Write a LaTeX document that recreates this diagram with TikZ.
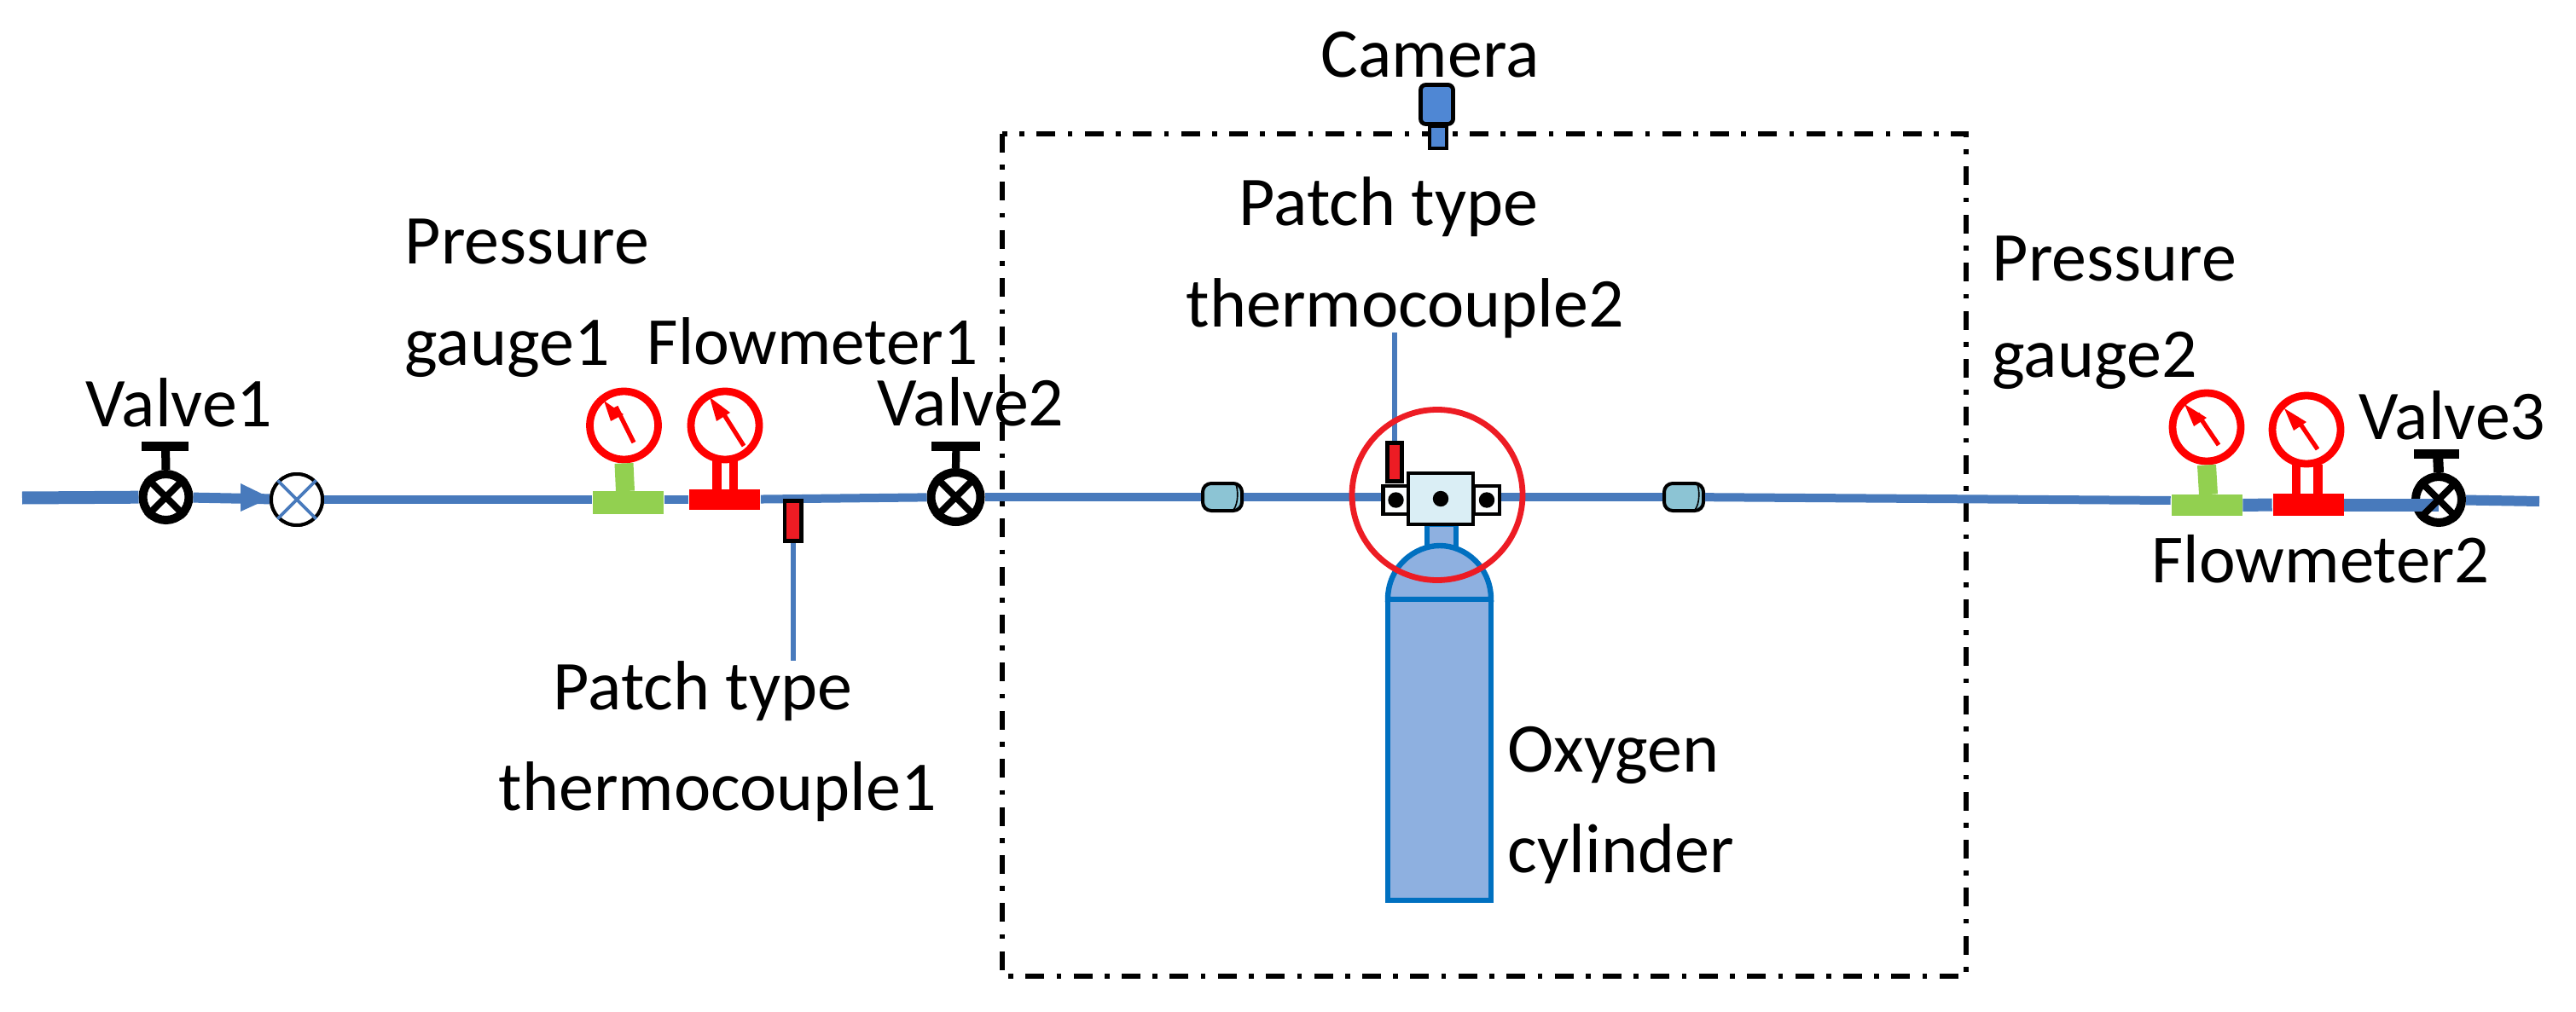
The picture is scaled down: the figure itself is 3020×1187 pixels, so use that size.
\documentclass[tikz,border=0pt]{standalone}
\usepackage{fontspec}
\setmainfont{Carlito}
\definecolor{pipeblue}{RGB}{72,122,188}
\definecolor{cylblue}{RGB}{142,176,224}
\definecolor{cyledge}{RGB}{0,112,192}
\definecolor{tgreen}{RGB}{146,208,80}
\definecolor{capblue}{RGB}{79,135,212}
\definecolor{headblue}{RGB}{218,238,245}
\definecolor{plugblue}{RGB}{140,196,212}
\definecolor{patchred}{RGB}{237,28,36}
\tikzset{
  lbl/.style={font=\fontsize{20.5pt}{24pt}\selectfont,inner sep=0pt,anchor=base west},
  pipe/.style={draw=pipeblue,line width=2.5pt},
  pipethick/.style={draw=pipeblue,line width=3.75pt},
  lead/.style={draw=pipeblue,line width=1.5pt},
  valvebody/.style={circle,draw=black,line width=2.5pt,fill=white,minimum size=13.5pt,inner sep=0pt},
  cross/.style={line width=2pt},
  dial/.style={circle,draw=red,line width=2.2pt,fill=white,minimum size=20pt,inner sep=0pt},
  needle/.style={line width=1.3pt,red},
  tbase/.style={rectangle,inner sep=0pt,minimum width=20.75pt},
  patch/.style={rectangle,draw=black,line width=1.2pt,fill=patchred,inner sep=0pt},
  plug/.style={rectangle,rounded corners=2.5pt,draw=black,line width=1pt,fill=plugblue,minimum width=11.5pt,minimum height=8pt,inner sep=0pt},
  block/.style={rectangle,draw=black,line width=1.2pt,fill=headblue,inner sep=0pt},
  side/.style={block,minimum width=7.5pt,minimum height=8.25pt,fill=white!90!headblue},
  pin/.style={circle,fill=black,minimum size=4.6pt,inner sep=0pt},
  cyl/.style={draw=cyledge,fill=cylblue,line width=1.6pt},
}
\begin{document}
\begin{tikzpicture}[x=0.25pt,y=0.25pt,yscale=-1,xscale=1]
\useasboundingbox (0,0) rectangle (3020,1187);

% dash-dot box
\draw [line width=1.4pt,dash pattern=on 5.5pt off 3.6pt on 1.4pt off 3.6pt] (1175,157) rectangle (2305,1145);

% pipe line parts
\coordinate (pipeL) at (26,584);
\coordinate (pipeR) at (2977,588);
\node [valvebody] (valveA) at (194.5,583) {};
\node [circle,draw=black,line width=1pt,fill=white,minimum size=15pt,inner sep=0pt] (flow) at (348,586) {};
\node [tbase,fill=tgreen,minimum height=6.75pt] (baseA) at (736.5,589.5) {};
\node [tbase,fill=red,minimum height=6pt] (baseB) at (849.5,586) {};
\node [valvebody,minimum size=14.5pt] (valveB) at (1120.5,583) {};
\node [plug] (plugA) at (1433,583) {};
\node [side] (sideA) at (1636.5,586.5) {};
\node [side] (sideB) at (1743,586.5) {};
\node [plug] (plugB) at (1974,583) {};
\node [tbase,fill=tgreen,minimum height=6.25pt] (baseC) at (2587,592.5) {};
\node [tbase,fill=red,minimum height=6.5pt] (baseD) at (2706,592) {};
\node [valvebody] (valveC) at (2859,586) {};

\draw [pipethick] (pipeL) -- (valveA);
\draw [pipe,line width=3pt] (valveA) -- (flow);
\draw [pipe] (flow) -- (flow -| baseA.west);
\draw [pipe] (baseB -| baseA.east) -- (baseB);
\draw [pipe] (baseB) -- (valveB);
\draw [pipe] (valveB) -- (plugA);
\draw [pipe] (plugA) -- (plugA -| sideA.west);
\draw [pipe] (plugB -| sideB.east) -- (plugB);
\draw [pipe] (plugB) -- (baseC.west |- 0,587);
\draw [pipethick] (baseC) -- (baseD);
\draw [pipethick] (baseD) -- (baseD -| valveC);
\draw [pipe,line width=3pt] (valveC) -- (pipeR);
\fill [pipeblue] (282,567) -- (317,584) -- (282,600) -- cycle;

% redraw over the pipe
\node [circle,draw=black,line width=1pt,fill=white,minimum size=15pt,inner sep=0pt] (flowTop) at (flow) {};
\draw [pipeblue,line width=0.9pt] (flowTop.45) -- (flowTop.225) (flowTop.135) -- (flowTop.315);
\draw (plugA.north east) ++(-10,1) .. controls (1452,573) and (1452,591) .. (1446,598);
\draw (plugB.north east) ++(-10,1) .. controls (1993,573) and (1993,591) .. (1987,598);

% valve crosses and handles
\draw [cross] (valveA.45) -- (valveA.225) (valveA.135) -- (valveA.315);
\draw [line width=2.5pt] (valveA.north) -- (194,523);
\draw [line width=2.75pt] (166,523.5) -- (221,523.5);
\draw [cross] (valveB.45) -- (valveB.225) (valveB.135) -- (valveB.315);
\draw [line width=2.3pt] (valveB.north) -- (1121,523);
\draw [line width=2.75pt] (1092,523.5) -- (1149,523.5);
\draw [cross] (valveC.45) -- (valveC.225) (valveC.135) -- (valveC.315);
\draw [line width=3pt] (valveC.north) -- (2858,532);
\draw [line width=2.75pt] (2830,532) -- (2883,532);

% gauges
\node [dial] (dialA) at (731.5,499) {};
\node [dial] (dialB) at (850,499) {};
\node [dial] (dialC) at (2587,501) {};
\node [dial] (dialD) at (2704,504) {};
\draw [line width=5.5pt,draw=tgreen] (dialA.south) -- (733,576);
\draw [line width=2.6pt,draw=red] (840.5,541) -- (840.5,574) (860,541) -- (860,574);
\draw [line width=5.5pt,draw=tgreen] (dialC.south) -- (2589,580);
\draw [line width=2.6pt,draw=red] (2692,545) -- (2692,579) (2717.5,545) -- (2717.5,579);
\draw [needle] (743,519) -- (722,477);
\fill [red] (708,470) -- (731,486) -- (716,494) -- cycle;
\draw [needle] (872,523) -- (843,477);
\fill [red] (832,466) -- (856,484) -- (840,494) -- cycle;
\draw [needle] (2601,522) -- (2576,485);
\fill [red] (2561,474) -- (2587,490) -- (2572,500) -- cycle;
\draw [needle] (2717,527) -- (2692,490);
\fill [red] (2678,479) -- (2704,495) -- (2689,505) -- cycle;

% thermocouple patches
\node [patch,minimum width=4.8pt,minimum height=11.8pt] (patchA) at (929.5,611) {};
\coordinate (leadA) at (929.5,775);
\draw [lead] (patchA) -- (leadA);
\node [pin] (pinA) at (sideA) {};
\node [pin] (pinB) at (sideB) {};
\node [patch,minimum width=4.3pt,minimum height=11.3pt] (patchB) at (1635,542) {};
\coordinate (leadB) at (1635,390);
\draw [lead] (leadB) -- (patchB.north);

% oxygen cylinder
\draw [cyl] (1673,615) -- (1673,645) -- (1707,645) -- (1707,615) -- cycle;
\draw [cyl] (1627,703) .. controls (1627,665) and (1658,640) .. (1688,640) .. controls (1718,640) and (1748,665) .. (1748,703) -- cycle;
\draw [cyl] (1627,703) rectangle (1748,1056);
\node [block,minimum width=19pt,minimum height=15pt] (head) at (1689,585) {};
\node [pin] (pinHead) at (head) {};
\draw [draw=patchred,line width=1.7pt] (1685,580.5) ellipse [x radius=100,y radius=100];

% camera
\node [rectangle,draw=black,line width=1.2pt,fill=capblue,minimum width=5pt,minimum height=6.5pt,inner sep=0pt] (lens) at (1686,161) {};
\node [rectangle,rounded corners=1.5pt,draw=black,line width=1.2pt,fill=capblue,minimum width=9.5pt,minimum height=11.5pt,inner sep=0pt] (camera) at (1684.5,122.5) {};

% labels
\node [lbl] (lblCamera) at (1548,91) {Camera};
\node [lbl] (lblPatchB) at (1452,265) {Patch type};
\node [lbl] (lblThermoB) at (1390,383) {thermocouple2};
\node [lbl] (lblPressureA) at (474,310) {Pressure};
\node [lbl] (lblGaugeA) at (474,428) {gauge1};
\node [lbl,font=\fontsize{19.8pt}{24pt}\selectfont] (lblFlowA) at (758,427) {Flowmeter1};
\node [lbl] (lblValveA) at (100,500) {Valve1};
\node [lbl] (lblValveB) at (1028,499) {Valve2};
\node [lbl] (lblPatchA) at (648,832) {Patch type};
\node [lbl] (lblThermoA) at (584,950) {thermocouple1};
\node [lbl] (lblPressureB) at (2335,329) {Pressure};
\node [lbl] (lblGaugeB) at (2335,442) {gauge2};
\node [lbl] (lblValveC) at (2765,515) {Valve3};
\node [lbl,font=\fontsize{20.2pt}{24pt}\selectfont] (lblFlowB) at (2522,683) {Flowmeter2};
\node [lbl] (lblOxygen) at (1767,905) {Oxygen};
\node [lbl] (lblCyl) at (1767,1023) {cylinder};
\end{tikzpicture}
\end{document}
